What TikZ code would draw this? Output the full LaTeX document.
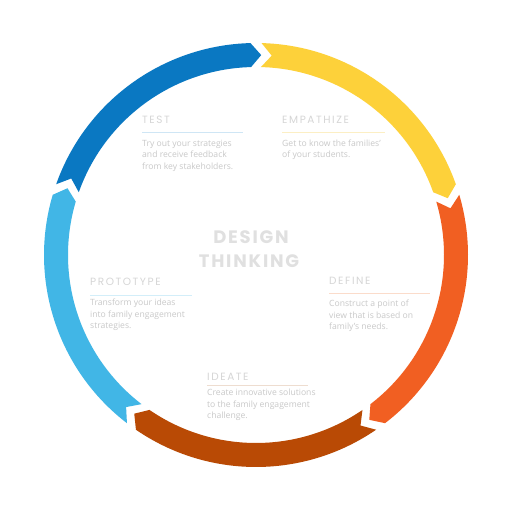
\documentclass[tikz,border=0pt]{standalone}
\usepackage{fontspec}
\setmainfont{Open Sans}
\newfontfamily\headfont[LetterSpace=15]{Poppins}
\newfontfamily\titlefont[LetterSpace=10]{Poppins}
\definecolor{cTest}{HTML}{0A78C2}
\definecolor{cEmp}{HTML}{FDD13A}
\definecolor{cDef}{HTML}{F15F22}
\definecolor{cIde}{HTML}{B94A05}
\definecolor{cPro}{HTML}{41B6E6}
\definecolor{txtHead}{HTML}{D6D6D6}
\definecolor{txtTitle}{HTML}{E0E0E0}
\definecolor{txtBody}{HTML}{C9C9C9}
\definecolor{lTest}{HTML}{CFE6F5}
\definecolor{lEmp}{HTML}{FCEFC4}
\definecolor{lPro}{HTML}{D3EEF9}
\definecolor{lDef}{HTML}{FBDCCB}
\definecolor{lIde}{HTML}{EEDDD0}
\begin{document}
\begin{tikzpicture}[x=1pt,y=1pt,
  head/.style={anchor=base west, inner sep=0pt, text=txtHead, font=\headfont\fontsize{10.5}{12}\selectfont},
  body/.style={anchor=base west, inner sep=0pt, align=left, text=txtBody, font=\fontsize{8.6}{11.5}\selectfont},
  title/.style={anchor=base, inner sep=0pt, text=txtTitle, font=\titlefont\bfseries\fontsize{18}{20}\selectfont},
  rule/.style={line width=0.8pt}]
\useasboundingbox (0,0) rectangle (512,512);
\fill[white] (0,0) rectangle (512,512);
\def\Ro{212}\def\Ri{188}\def\Rm{200}\def\g{1.5}\def\d{3}
\begin{scope}[shift={(256,257)}]
\foreach \a/\c in {90/cEmp, 18/cDef, -54/cIde, -126/cPro, 162/cTest} {
  \pgfmathsetmacro\s{\a-\g}
  \pgfmathsetmacro\e{\a-72+\g}
  \pgfmathsetmacro\et{\e-\d}
  \pgfmathsetmacro\sn{\s-\d}
  \fill[\c] (\s:\Ro) arc[start angle=\s, end angle=\e, radius=\Ro pt] -- (\et:\Rm) -- (\e:\Ri)
     arc[start angle=\e, end angle=\s, radius=\Ri pt] -- (\sn:\Rm) -- cycle;
}
\end{scope}
% title
\node[title] (t1) at (251,268) {DESIGN};
\node[title] (t2) at (249,244) {THINKING};
% TEST
\node[head] (testh) at (142,388) {TEST};
\coordinate (testa) at (142,380); \coordinate (testb) at (243,380);
\draw[rule, lTest] (testa) -- (testb);
\node[body] (testt) at (142,342.5) {Try out your strategies\\and receive feedback\\from key stakeholders.};
% EMPATHIZE
\node[head] (emph) at (282,388) {EMPATHIZE};
\coordinate (empa) at (282,380); \coordinate (empb) at (385,380);
\draw[rule, lEmp] (empa) -- (empb);
\node[body] (empt) at (282,354) {Get to know the families'\\of your students.};
% PROTOTYPE
\node[head] (proh) at (90,226) {PROTOTYPE};
\coordinate (proa) at (90,217); \coordinate (prob) at (192,217);
\draw[rule, lPro] (proa) -- (prob);
\node[body] (prot) at (90,183) {Transform your ideas\\into family engagement\\strategies.};
% DEFINE
\node[head] (defh) at (329,227) {DEFINE};
\coordinate (defa) at (329,219); \coordinate (defb) at (430,219);
\draw[rule, lDef] (defa) -- (defb);
\node[body] (deft) at (329,182) {Construct a point of\\view that is based on\\family's needs.};
% IDEATE
\node[head] (ideh) at (207,131) {IDEATE};
\coordinate (idea) at (207,127); \coordinate (ideb) at (308,127);
\draw[rule, lIde] (idea) -- (ideb);
\node[body] (idet) at (207,93) {Create innovative solutions\\to the family engagement\\challenge.};
\end{tikzpicture}
\end{document}
